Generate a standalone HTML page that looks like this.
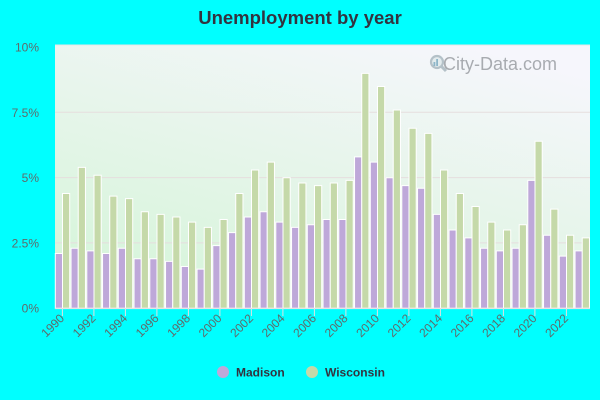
<!DOCTYPE html>
<html><head><meta charset="utf-8"><style>
html,body{margin:0;padding:0;background:#00ffff;}
svg{display:block;font-family:"Liberation Sans",Arial,sans-serif;}
</style></head><body>
<svg width="600" height="400" viewBox="0 0 600 400" xmlns="http://www.w3.org/2000/svg">
<defs>
<linearGradient id="bg" x1="0" y1="1" x2="0.6" y2="-0.1">
<stop offset="0" stop-color="#d2f5d6"/>
<stop offset="0.55" stop-color="#e6f5ea"/>
<stop offset="1" stop-color="#f6f6fc"/>
</linearGradient>
</defs>
<rect x="0" y="0" width="600" height="400" fill="#00ffff"/>
<text x="300" y="24" text-anchor="middle" font-size="18.5" font-weight="bold" fill="#33333f">Unemployment by year</text>
<rect x="55" y="44.5" width="535" height="264" fill="url(#bg)"/>
<line x1="55" y1="45" x2="590" y2="45" stroke="#e6e6e6" stroke-width="1"/>
<g stroke="#e6dede" stroke-width="1">
<line x1="55" y1="112.3" x2="590" y2="112.3"/>
<line x1="55" y1="177.6" x2="590" y2="177.6"/>
<line x1="55" y1="242.9" x2="590" y2="242.9"/>
</g>
<g opacity="0.75">
<circle cx="437" cy="62" r="6" fill="#dde8ea" stroke="#9fb0b8" stroke-width="2.2"/>
<rect x="433.5" y="62" width="1.8" height="4" fill="#6aa0b8"/>
<rect x="436.2" y="59" width="1.8" height="7" fill="#6aa0b8"/>
<line x1="441.5" y1="66.5" x2="446" y2="71" stroke="#9fb0b8" stroke-width="3"/>
<text x="443" y="70" font-size="18" fill="#8f9398">City-Data.com</text>
</g>
<g transform="translate(0,308.3) scale(1,-26.1)" stroke="#ffffff" stroke-width="1">
<g fill="#bea8d9">
<rect vector-effect="non-scaling-stroke" x="55.3" y="0" width="7.2" height="2.1"/>
<rect vector-effect="non-scaling-stroke" x="71.05" y="0" width="7.2" height="2.3"/>
<rect vector-effect="non-scaling-stroke" x="86.8" y="0" width="7.2" height="2.2"/>
<rect vector-effect="non-scaling-stroke" x="102.55" y="0" width="7.2" height="2.1"/>
<rect vector-effect="non-scaling-stroke" x="118.3" y="0" width="7.2" height="2.3"/>
<rect vector-effect="non-scaling-stroke" x="134.05" y="0" width="7.2" height="1.9"/>
<rect vector-effect="non-scaling-stroke" x="149.8" y="0" width="7.2" height="1.9"/>
<rect vector-effect="non-scaling-stroke" x="165.55" y="0" width="7.2" height="1.8"/>
<rect vector-effect="non-scaling-stroke" x="181.3" y="0" width="7.2" height="1.6"/>
<rect vector-effect="non-scaling-stroke" x="197.05" y="0" width="7.2" height="1.5"/>
<rect vector-effect="non-scaling-stroke" x="212.8" y="0" width="7.2" height="2.4"/>
<rect vector-effect="non-scaling-stroke" x="228.55" y="0" width="7.2" height="2.9"/>
<rect vector-effect="non-scaling-stroke" x="244.3" y="0" width="7.2" height="3.5"/>
<rect vector-effect="non-scaling-stroke" x="260.05" y="0" width="7.2" height="3.7"/>
<rect vector-effect="non-scaling-stroke" x="275.8" y="0" width="7.2" height="3.3"/>
<rect vector-effect="non-scaling-stroke" x="291.55" y="0" width="7.2" height="3.1"/>
<rect vector-effect="non-scaling-stroke" x="307.3" y="0" width="7.2" height="3.2"/>
<rect vector-effect="non-scaling-stroke" x="323.05" y="0" width="7.2" height="3.4"/>
<rect vector-effect="non-scaling-stroke" x="338.8" y="0" width="7.2" height="3.4"/>
<rect vector-effect="non-scaling-stroke" x="354.55" y="0" width="7.2" height="5.8"/>
<rect vector-effect="non-scaling-stroke" x="370.3" y="0" width="7.2" height="5.6"/>
<rect vector-effect="non-scaling-stroke" x="386.05" y="0" width="7.2" height="5.0"/>
<rect vector-effect="non-scaling-stroke" x="401.8" y="0" width="7.2" height="4.7"/>
<rect vector-effect="non-scaling-stroke" x="417.55" y="0" width="7.2" height="4.6"/>
<rect vector-effect="non-scaling-stroke" x="433.3" y="0" width="7.2" height="3.6"/>
<rect vector-effect="non-scaling-stroke" x="449.05" y="0" width="7.2" height="3.0"/>
<rect vector-effect="non-scaling-stroke" x="464.8" y="0" width="7.2" height="2.7"/>
<rect vector-effect="non-scaling-stroke" x="480.55" y="0" width="7.2" height="2.3"/>
<rect vector-effect="non-scaling-stroke" x="496.3" y="0" width="7.2" height="2.2"/>
<rect vector-effect="non-scaling-stroke" x="512.05" y="0" width="7.2" height="2.3"/>
<rect vector-effect="non-scaling-stroke" x="527.8" y="0" width="7.2" height="4.9"/>
<rect vector-effect="non-scaling-stroke" x="543.55" y="0" width="7.2" height="2.8"/>
<rect vector-effect="non-scaling-stroke" x="559.3" y="0" width="7.2" height="2.0"/>
<rect vector-effect="non-scaling-stroke" x="575.05" y="0" width="7.2" height="2.2"/>
</g>
<g fill="#c5d9a9">
<rect vector-effect="non-scaling-stroke" x="62.5" y="0" width="7.2" height="4.4"/>
<rect vector-effect="non-scaling-stroke" x="78.25" y="0" width="7.2" height="5.4"/>
<rect vector-effect="non-scaling-stroke" x="94" y="0" width="7.2" height="5.1"/>
<rect vector-effect="non-scaling-stroke" x="109.75" y="0" width="7.2" height="4.3"/>
<rect vector-effect="non-scaling-stroke" x="125.5" y="0" width="7.2" height="4.2"/>
<rect vector-effect="non-scaling-stroke" x="141.25" y="0" width="7.2" height="3.7"/>
<rect vector-effect="non-scaling-stroke" x="157" y="0" width="7.2" height="3.6"/>
<rect vector-effect="non-scaling-stroke" x="172.75" y="0" width="7.2" height="3.5"/>
<rect vector-effect="non-scaling-stroke" x="188.5" y="0" width="7.2" height="3.3"/>
<rect vector-effect="non-scaling-stroke" x="204.25" y="0" width="7.2" height="3.1"/>
<rect vector-effect="non-scaling-stroke" x="220" y="0" width="7.2" height="3.4"/>
<rect vector-effect="non-scaling-stroke" x="235.75" y="0" width="7.2" height="4.4"/>
<rect vector-effect="non-scaling-stroke" x="251.5" y="0" width="7.2" height="5.3"/>
<rect vector-effect="non-scaling-stroke" x="267.25" y="0" width="7.2" height="5.6"/>
<rect vector-effect="non-scaling-stroke" x="283" y="0" width="7.2" height="5.0"/>
<rect vector-effect="non-scaling-stroke" x="298.75" y="0" width="7.2" height="4.8"/>
<rect vector-effect="non-scaling-stroke" x="314.5" y="0" width="7.2" height="4.7"/>
<rect vector-effect="non-scaling-stroke" x="330.25" y="0" width="7.2" height="4.8"/>
<rect vector-effect="non-scaling-stroke" x="346" y="0" width="7.2" height="4.9"/>
<rect vector-effect="non-scaling-stroke" x="361.75" y="0" width="7.2" height="9.0"/>
<rect vector-effect="non-scaling-stroke" x="377.5" y="0" width="7.2" height="8.5"/>
<rect vector-effect="non-scaling-stroke" x="393.25" y="0" width="7.2" height="7.6"/>
<rect vector-effect="non-scaling-stroke" x="409" y="0" width="7.2" height="6.9"/>
<rect vector-effect="non-scaling-stroke" x="424.75" y="0" width="7.2" height="6.7"/>
<rect vector-effect="non-scaling-stroke" x="440.5" y="0" width="7.2" height="5.3"/>
<rect vector-effect="non-scaling-stroke" x="456.25" y="0" width="7.2" height="4.4"/>
<rect vector-effect="non-scaling-stroke" x="472" y="0" width="7.2" height="3.9"/>
<rect vector-effect="non-scaling-stroke" x="487.75" y="0" width="7.2" height="3.3"/>
<rect vector-effect="non-scaling-stroke" x="503.5" y="0" width="7.2" height="3.0"/>
<rect vector-effect="non-scaling-stroke" x="519.25" y="0" width="7.2" height="3.2"/>
<rect vector-effect="non-scaling-stroke" x="535" y="0" width="7.2" height="6.4"/>
<rect vector-effect="non-scaling-stroke" x="550.75" y="0" width="7.2" height="3.8"/>
<rect vector-effect="non-scaling-stroke" x="566.5" y="0" width="7.2" height="2.8"/>
<rect vector-effect="non-scaling-stroke" x="582.25" y="0" width="7.2" height="2.7"/>
</g>
</g>
<line x1="55" y1="308.5" x2="590" y2="308.5" stroke="#e4e4e4" stroke-width="1.2"/>
<g stroke="#e0e0e0" stroke-width="1">
<line x1="62.4" y1="308" x2="62.4" y2="316"/>
<line x1="93.9" y1="308" x2="93.9" y2="316"/>
<line x1="125.4" y1="308" x2="125.4" y2="316"/>
<line x1="156.9" y1="308" x2="156.9" y2="316"/>
<line x1="188.4" y1="308" x2="188.4" y2="316"/>
<line x1="219.9" y1="308" x2="219.9" y2="316"/>
<line x1="251.4" y1="308" x2="251.4" y2="316"/>
<line x1="282.9" y1="308" x2="282.9" y2="316"/>
<line x1="314.4" y1="308" x2="314.4" y2="316"/>
<line x1="345.9" y1="308" x2="345.9" y2="316"/>
<line x1="377.4" y1="308" x2="377.4" y2="316"/>
<line x1="408.9" y1="308" x2="408.9" y2="316"/>
<line x1="440.4" y1="308" x2="440.4" y2="316"/>
<line x1="471.9" y1="308" x2="471.9" y2="316"/>
<line x1="503.4" y1="308" x2="503.4" y2="316"/>
<line x1="534.9" y1="308" x2="534.9" y2="316"/>
<line x1="566.4" y1="308" x2="566.4" y2="316"/>
</g>
<g font-size="12" fill="#5f6b6b" text-anchor="end">
<text x="39" y="51.5">10%</text>
<text x="39" y="116.8">7.5%</text>
<text x="39" y="182">5%</text>
<text x="39" y="247.3">2.5%</text>
<text x="39" y="312.6">0%</text>
</g>
<g font-size="12" fill="#5f6b6b" text-anchor="end">
<text transform="translate(65,319) rotate(-45)">1990</text>
<text transform="translate(96.5,319) rotate(-45)">1992</text>
<text transform="translate(128,319) rotate(-45)">1994</text>
<text transform="translate(159.5,319) rotate(-45)">1996</text>
<text transform="translate(191,319) rotate(-45)">1998</text>
<text transform="translate(222.5,319) rotate(-45)">2000</text>
<text transform="translate(254,319) rotate(-45)">2002</text>
<text transform="translate(285.5,319) rotate(-45)">2004</text>
<text transform="translate(317,319) rotate(-45)">2006</text>
<text transform="translate(348.5,319) rotate(-45)">2008</text>
<text transform="translate(380,319) rotate(-45)">2010</text>
<text transform="translate(411.5,319) rotate(-45)">2012</text>
<text transform="translate(443,319) rotate(-45)">2014</text>
<text transform="translate(474.5,319) rotate(-45)">2016</text>
<text transform="translate(506,319) rotate(-45)">2018</text>
<text transform="translate(537.5,319) rotate(-45)">2020</text>
<text transform="translate(569,319) rotate(-45)">2022</text>
</g>
<circle cx="223" cy="372" r="6" fill="#bea8d9"/>
<text x="236" y="376.5" font-size="12" font-weight="bold" fill="#33333f">Madison</text>
<circle cx="312" cy="372" r="6" fill="#c5d9a9"/>
<text x="325" y="376.5" font-size="12" font-weight="bold" fill="#33333f">Wisconsin</text>
</svg>
</body></html>
